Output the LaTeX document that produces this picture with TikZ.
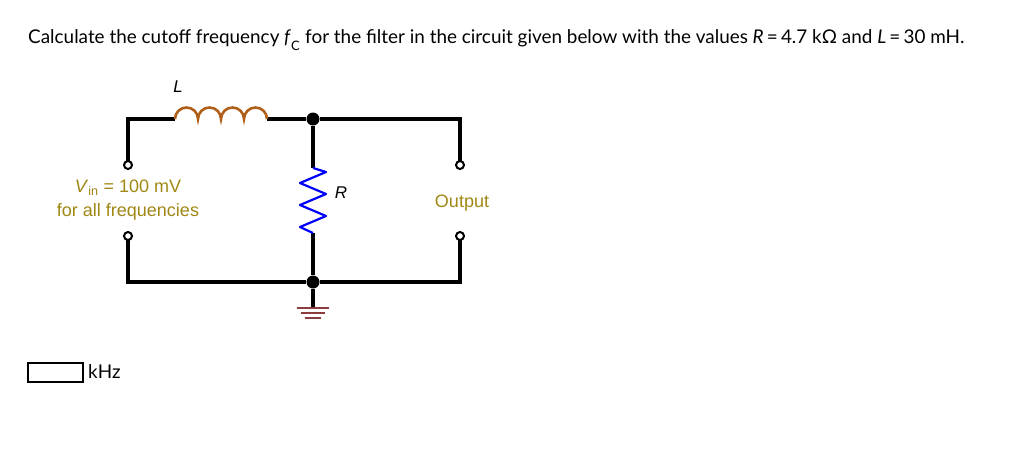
\documentclass[tikz,border=0pt]{standalone}
\usepackage{fontspec}
\setmainfont{Lato}
\newfontfamily\arialf{Liberation Sans}
\usetikzlibrary{decorations.pathmorphing}
\definecolor{olive}{RGB}{160,135,20}
\definecolor{indc}{RGB}{175,95,25}
\definecolor{gnd}{RGB}{140,60,60}
\begin{document}
\begin{tikzpicture}[x=1pt,y=-1pt,
  wire/.style={line width=3.2pt,black},
  term/.style={circle,draw=black,line width=2pt,fill=white,inner sep=0pt,minimum size=8pt},
  dot/.style={circle,fill=black,inner sep=0pt,minimum size=13pt},
  lab/.style={font=\arialf\fontsize{18}{20}\selectfont,text=olive},
  txt/.style={font=\fontsize{18.9}{22}\selectfont,anchor=west,inner sep=0pt}]
\useasboundingbox (0,0) rectangle (1024,459);
\node[txt] (title) at (28,40) {Calculate the cutoff frequency \textit{f}\raisebox{-0.3ex}{\textsubscript{\fontsize{13}{13}\selectfont C}} for the filter in the circuit given below with the values \textit{R}\,=\,4.7 kΩ and \textit{L}\,=\,30 mH.};
\coordinate (tl) at (128,119);
\coordinate (l1) at (175,119);
\coordinate (l2) at (267,119);
\coordinate (tr) at (460,119);
\coordinate (bl) at (128,282);
\coordinate (br) at (460,282);
\coordinate (r1) at (313,168);
\coordinate (r2) at (313,233);
\coordinate (g) at (313,308);
\node[dot] (jt) at (313,119) {};
\node[dot] (jb) at (313,282) {};
\draw[wire] (128,165) -- (tl) -- (l1);
\draw[wire] (l2) -- (jt) -- (tr) -- (460,165);
\draw[wire] (128,236) -- (bl) -- (jb) -- (br) -- (460,236);
\node[term] (i1) at (128,165) {};
\node[term] (i2) at (128,236) {};
\node[term] (o1) at (460,165) {};
\node[term] (o2) at (460,236) {};
\draw[wire] (jt) -- (r1);
\draw[wire] (r2) -- (jb) -- (g);
\draw[indc,line width=2.6pt] (l1)
  \foreach \k in {0,1,2,3} { arc[start angle=180,end angle=360,radius=11.5] } ;
\draw[blue,line width=2.2pt,line join=round] (r1) -- (326,172) -- (300,183) -- (326,194) -- (300,205) -- (326,216) -- (300,227) -- (r2);
\draw[gnd,line width=2.5pt] (297,308) -- (329,308) (301,313) -- (325,313) (305,318) -- (321,318);
\node[font=\arialf\itshape\fontsize{17}{19}\selectfont] (Ll) at (178,87) {L};
\node[font=\arialf\itshape\fontsize{17}{19}\selectfont] (Rl) at (341,193) {R};
\node[lab] (vin) at (128,188) {\textit{V}\textsubscript{in} = 100 mV};
\node[lab] (fa) at (128,212) {for all frequencies};
\node[lab] (out) at (462,203) {Output};
\node[draw=black,line width=1.5pt,minimum width=55pt,minimum height=19pt,inner sep=0pt] (box) at (55.5,372.5) {};
\node[txt] (khz) at (88,372) {kHz};
\end{tikzpicture}
\end{document}
